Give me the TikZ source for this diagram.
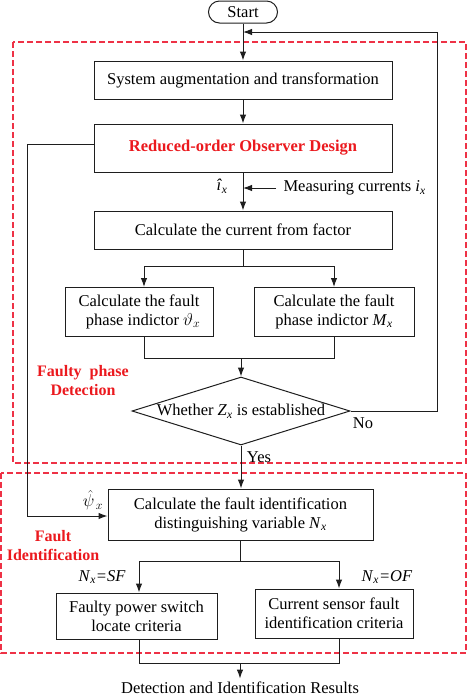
\documentclass[tikz,border=0pt]{standalone}
\usepackage{fontspec}
\setmainfont{Liberation Serif}
\usetikzlibrary{arrows.meta,shapes.geometric,calc}
\definecolor{dashred}{RGB}{238,50,70}
\definecolor{txtred}{RGB}{235,25,30}
\definecolor{ln}{RGB}{30,30,30}
\newcommand{\mx}[2]{\textit{#1}\textsubscript{\textit{#2}}}
\begin{document}
\begin{tikzpicture}[x=1pt,y=-1pt,
  every node/.style={font=\fontsize{16.5}{19}\selectfont},
  box/.style={draw=ln,line width=1pt,align=center,inner sep=2pt},
  arr/.style={-{Latex[length=9pt,width=6.5pt]},draw=ln,line width=1pt},
  ln/.style={draw=ln,line width=1pt},
  region/.style={draw=dashred,line width=1.2pt,dash pattern=on 6pt off 3pt},
  lbl/.style={text=txtred,font=\fontsize{16}{19}\selectfont\bfseries,align=center}]
\useasboundingbox (0,0) rectangle (474,697);
% regions
\draw[region] (13,42) rectangle (466,463);
\draw[region] (1,473) rectangle (466,653);
% nodes
\node[box,rounded corners=11pt,minimum width=69pt,minimum height=22pt,inner sep=1pt] (start) at (243,12) {Start};
\node[box,minimum width=298pt,minimum height=38pt] (b1) at (243,80) {System augmentation and transformation};
\node[box,minimum width=298pt,minimum height=48pt,text=txtred,font=\fontsize{16.5}{19}\selectfont\bfseries] (b2) at (243,148) {Reduced-order Observer Design};
\node[box,minimum width=298pt,minimum height=38pt] (b3) at (243,230) {Calculate the current from factor};
\node[box,minimum width=148pt,minimum height=49pt,font=\fontsize{16.5}{19}\selectfont] (b4a) at (139,311.5) {Calculate the fault\\ \ \ phase indictor $\vartheta_x$};
\node[box,minimum width=160pt,minimum height=49pt,font=\fontsize{16.5}{19}\selectfont] (b4b) at (334,311.5) {Calculate the fault\\ phase indictor \mx{M}{x}};
\node[draw=ln,line width=1pt,diamond,aspect=3.2,inner sep=0pt,minimum width=218pt,minimum height=68pt] (dia) at (241,411) {Whether \mx{Z}{x} is established};
\node[box,minimum width=265pt,minimum height=51pt,font=\fontsize{16.5}{19}\selectfont] (b5) at (240.5,514.5) {Calculate the fault identification\\ distinguishing variable \mx{N}{x}};
\node[box,minimum width=161pt,minimum height=46pt,font=\fontsize{16.5}{19}\selectfont] (b6a) at (136.5,616) {Faulty power switch\\ locate criteria};
\node[box,minimum width=158pt,minimum height=49pt,font=\fontsize{16.5}{19}\selectfont] (b6b) at (334,613.5) {Current sensor fault\\ identification criteria};
\node (res) at (240,688) {Detection and Identification Results};
% labels
\node[lbl] (l1) at (83,381) {Faulty\ \ phase\\ Detection};
\node[lbl] (l2) at (53,546) {Fault\\ Identification};
\node (ihat) at (222,186) {\textit{î}\textsubscript{\textit{x}}};
\node[anchor=west] (meas) at (280,188) {Measuring currents \mx{i}{x}};
\node[inner sep=1pt] (psi) at (93,500) {$\hat{\psi}_{\,x}$};
\node (no) at (363,423) {No};
\node (yes) at (259,457) {Yes};
\node (sf) at (102,577) {\textit{N}\textsubscript{\textit{x}}\textit{=SF}};
\node (of) at (387,577) {\textit{N}\textsubscript{\textit{x}}\textit{=OF}};
% coordinates
\coordinate (fb) at (243,32);
\coordinate (mstart) at (276,188);
\coordinate (msplit) at (243,188);
\coordinate (s1) at (243,266);
\coordinate (j1) at (241,358);
\coordinate (s2) at (240,561);
\coordinate (j2) at (240,663);
% connectors
\draw[arr] (start.south) -- (b1.north);
\draw[arr] (dia.east) -- (437,411) -- (437,32) -- (fb);
\draw[arr] (b1) -- (b2);
\draw[arr] (b2) -- (b3);
\draw[arr] (mstart) -- (msplit);
\draw[ln] (b3.south) -- (s1);
\draw[ln] (144,266) -- (334,266);
\draw[arr] (144,266) -- (144,287);
\draw[arr] (334,266) -- (334,287);
\draw[ln] (144,336) -- (144,358) -- (334,358) -- (334,336);
\draw[arr] (j1) -- (dia.north);
\draw[arr] (dia.south) -- (dia.south |- b5.north);
\draw[arr] ([yshift=4pt]b2.west) -- (27,144) -- (27,516) -- (b5.west |- 0,516);
\draw[ln] (b5.south -| s2) -- (s2);
\draw[ln] (139,561) -- (339,561);
\draw[arr] (139,561) -- (b6a.north -| 139,0);
\draw[arr] (339,561) -- (b6b.north -| 339,0);
\draw[ln] (139,639) -- (139,663) -- (339,663) -- (339,638);
\draw[arr] (j2) -- (res.north);
\end{tikzpicture}
\end{document}
